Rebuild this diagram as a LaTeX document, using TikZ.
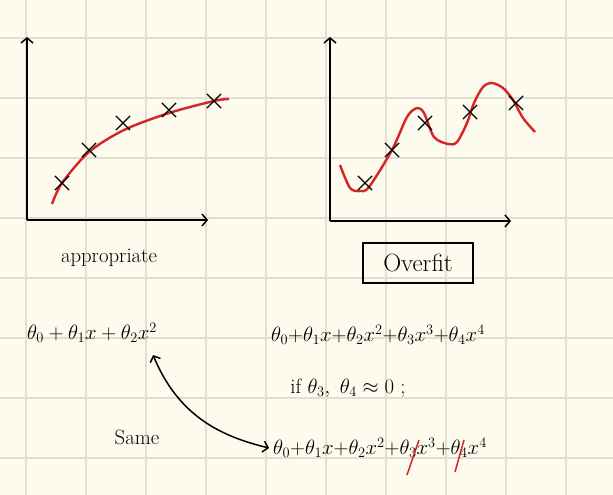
\documentclass[tikz,border=0pt]{standalone}
\usetikzlibrary{arrows.meta,shapes.misc}
\definecolor{paper}{HTML}{FDFBEE}
\definecolor{gridline}{HTML}{E2DED0}
\definecolor{pen}{HTML}{D62424}
\newcommand\quartic{\medmuskip=0mu\relax\theta_0+\theta_1x+\theta_2x^2+\theta_3x^3+\theta_4x^4}
\begin{document}
\begin{tikzpicture}[x=1pt,y=-1pt,line width=1.5pt,
    axis/.style={-{Straight Barb[length=5pt,width=12pt]}},
    link/.style={{Straight Barb[length=5pt,width=11pt]}-{Straight Barb[length=5pt,width=11pt]}},
    fitline/.style={pen,line width=2.4pt},
    datapt/.style={draw,cross out,minimum size=13pt,inner sep=0pt,line width=1.2pt},
    txt/.style={font=\huge}]
  \useasboundingbox (0,0) rectangle (613,495);
  \fill[paper] (0,0) rectangle (613,495);
  \foreach \x in {26,86,...,566} \draw[gridline,line width=1.6pt] (\x,0) -- (\x,495);
  \foreach \y in {38,98,...,458} \draw[gridline,line width=1.6pt] (0,\y) -- (613,\y);
  \coordinate (O1) at (27,220);
  \coordinate (Y1) at (27,37);
  \coordinate (X1) at (208,220);
  \coordinate (O2) at (330,221);
  \coordinate (Y2) at (330,37);
  \coordinate (X2) at (511,221);
  \draw[axis] (O1) -- (Y1);
  \draw[axis] (O1) -- (X1);
  \draw[axis] (O2) -- (Y2);
  \draw[axis] (O2) -- (X2);
  \draw[fitline] plot[smooth] coordinates {(52,204) (62,183) (89,152) (124,130) (169,113) (214,101) (229,99)};
  \draw[fitline] plot[smooth] coordinates {(340,165) (350,188) (360,191) (369,187) (392,150) (407,117) (417,108) (424,113) (434,137) (448,144) (457,142) (467,123) (474,103) (483,87) (492,83) (503,88) (513,100) (523,118) (535,132)};
  \foreach \n/\p in {1/{(62,183)},2/{(89,150)},3/{(123,123)},4/{(169,110)},5/{(214,101)}}
    \node[datapt] (a\n) at \p {};
  \foreach \n/\p in {1/{(365,183)},2/{(392,150)},3/{(425,123)},4/{(470,112)},5/{(516,103)}}
    \node[datapt] (b\n) at \p {};
  \node[txt] (fit1) at (109,258) {appropriate};
  \node[txt,font=\Huge,draw,minimum width=110pt,minimum height=40pt] (fit2) at (418,263) {Overfit};
  \node[txt] (quad) at (92,333) {$\theta_0+\theta_1x+\theta_2x^2$};
  \node[txt] (quart) at (378,335) {$\quartic$};
  \node[txt] (cond) at (348,388) {if $\theta_3,\ \theta_4\approx 0$ ;};
  \node[txt] (quart[0]) at (380,448) {$\quartic$};
  \node[txt] (same) at (137,437) {Same};
  \draw[link] ([shift={(-8,8)}]quad.south east) .. controls +(25,60) and +(-50,-12) .. (quart[0].west);
  \draw[pen,line width=1.5pt] (407,475) -- (419,440);
  \draw[pen,line width=1.5pt] (455,472) -- (464,440);
\end{tikzpicture}
\end{document}
